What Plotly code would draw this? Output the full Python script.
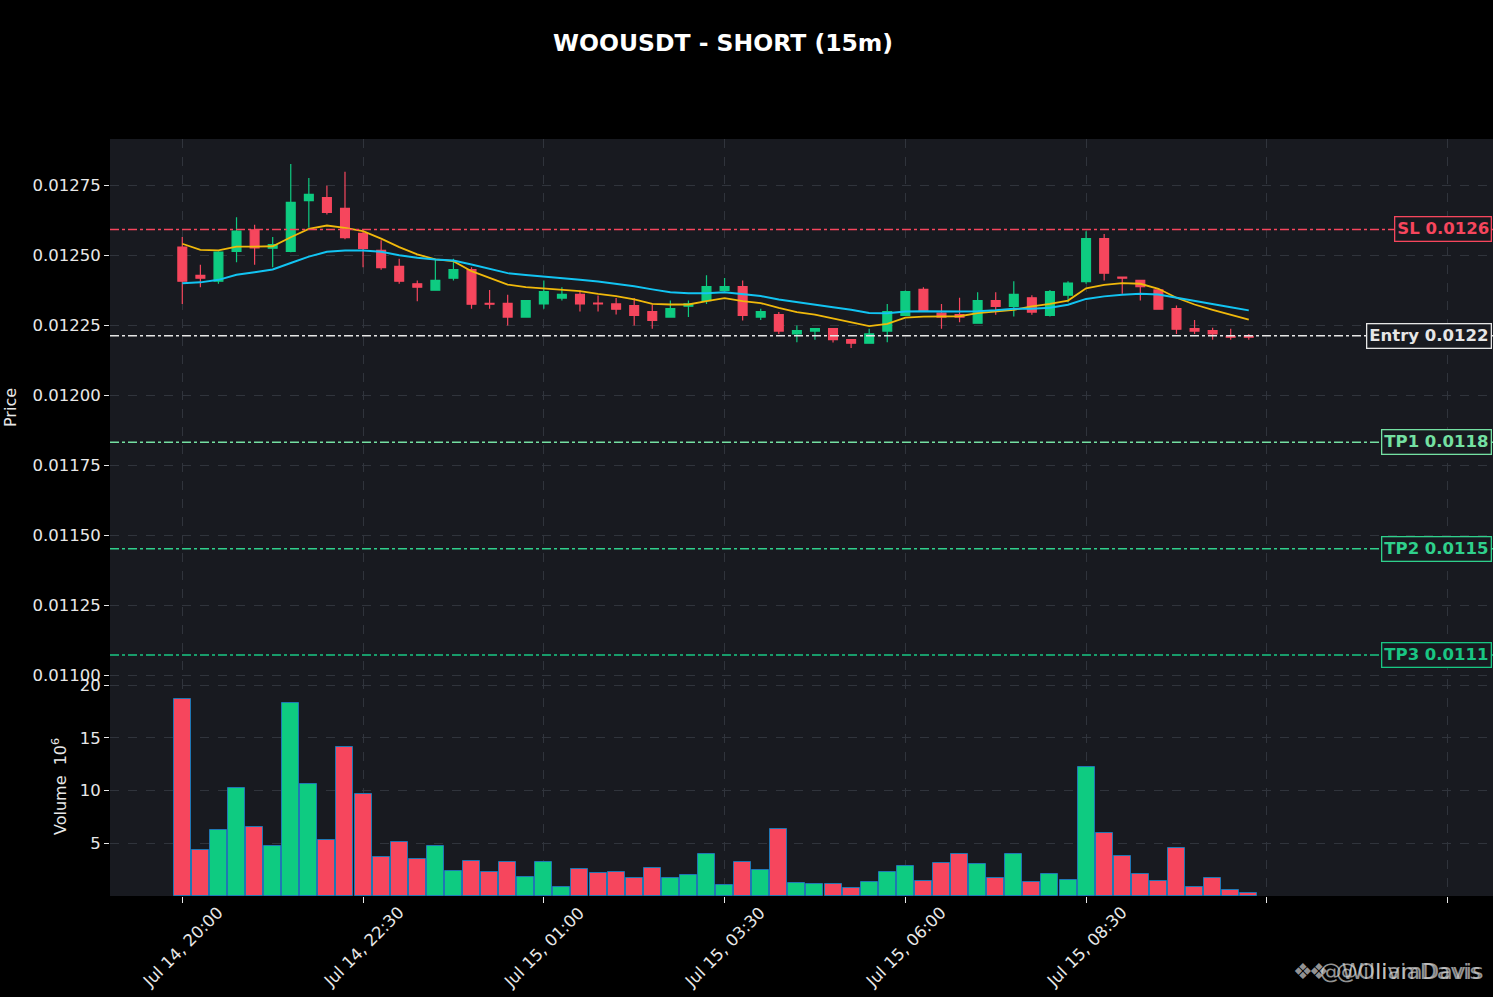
import pandas as pd
import plotly.graph_objects as go

# ---------------- data ----------------
times = pd.date_range("2025-07-14 20:00", periods=60, freq="15min")

opens = [0.012530, 0.012429, 0.012408, 0.012515, 0.012592, 0.012526, 0.012515, 0.012696, 0.012707, 0.012668,
         0.012579, 0.012518, 0.012461, 0.012399, 0.012376, 0.012419, 0.012450, 0.012329, 0.012329, 0.012280,
         0.012327, 0.012348, 0.012361, 0.012330, 0.012327, 0.012321, 0.012300, 0.012280, 0.012319, 0.012339,
         0.012375, 0.012389, 0.012280, 0.012289, 0.012220, 0.012230, 0.012239, 0.012200, 0.012187, 0.012230,
         0.012286, 0.012379, 0.012294, 0.012289, 0.012258, 0.012339, 0.012318, 0.012349, 0.012286, 0.012358,
         0.012407, 0.012560, 0.012423, 0.012411, 0.012377, 0.012310, 0.012239, 0.012232, 0.012211, 0.012211]
highs = [0.012566, 0.012467, 0.012515, 0.012637, 0.012610, 0.012566, 0.012827, 0.012777, 0.012749, 0.012799,
         0.012589, 0.012554, 0.012488, 0.012411, 0.012488, 0.012488, 0.012458, 0.012377, 0.012360, 0.012339,
         0.012411, 0.012387, 0.012375, 0.012357, 0.012348, 0.012348, 0.012325, 0.012339, 0.012339, 0.012429,
         0.012420, 0.012411, 0.012310, 0.012298, 0.012250, 0.012239, 0.012239, 0.012200, 0.012238, 0.012327,
         0.012375, 0.012387, 0.012327, 0.012349, 0.012369, 0.012369, 0.012408, 0.012358, 0.012377, 0.012408,
         0.012587, 0.012577, 0.012425, 0.012411, 0.012381, 0.012321, 0.012270, 0.012242, 0.012238, 0.012220]
lows = [0.012327, 0.012387, 0.012399, 0.012476, 0.012467, 0.012458, 0.012512, 0.012599, 0.012646, 0.012558,
        0.012458, 0.012449, 0.012399, 0.012337, 0.012376, 0.012411, 0.012310, 0.012310, 0.012250, 0.012280,
        0.012310, 0.012339, 0.012300, 0.012300, 0.012289, 0.012250, 0.012238, 0.012280, 0.012280, 0.012327,
        0.012372, 0.012268, 0.012270, 0.012220, 0.012190, 0.012199, 0.012189, 0.012170, 0.012187, 0.012190,
        0.012286, 0.012298, 0.012238, 0.012262, 0.012258, 0.012288, 0.012282, 0.012288, 0.012282, 0.012333,
        0.012399, 0.012411, 0.012363, 0.012339, 0.012308, 0.012220, 0.012220, 0.012199, 0.012199, 0.012199]
closes = [0.012408, 0.012419, 0.012512, 0.012587, 0.012527, 0.012539, 0.012690, 0.012718, 0.012654, 0.012564,
          0.012525, 0.012457, 0.012408, 0.012387, 0.012411, 0.012450, 0.012326, 0.012326, 0.012280, 0.012339,
          0.012371, 0.012361, 0.012327, 0.012327, 0.012308, 0.012286, 0.012268, 0.012310, 0.012327, 0.012389,
          0.012389, 0.012286, 0.012300, 0.012230, 0.012232, 0.012239, 0.012199, 0.012187, 0.012220, 0.012300,
          0.012371, 0.012302, 0.012280, 0.012280, 0.012339, 0.012318, 0.012361, 0.012298, 0.012371, 0.012401,
          0.012560, 0.012437, 0.012419, 0.012389, 0.012308, 0.012237, 0.012230, 0.012220, 0.012208, 0.012208]

volumes_m = [18.7, 4.4, 6.3, 10.2, 6.5, 4.7, 18.3, 10.6, 5.35, 14.1,
             9.7, 3.7, 5.1, 3.5, 4.7, 2.4, 3.35, 2.3, 3.2, 1.8,
             3.2, 0.9, 2.6, 2.2, 2.3, 1.75, 2.7, 1.75, 1.95, 4.0,
             1.0, 3.2, 2.5, 6.4, 1.2, 1.1, 1.1, 0.8, 1.3, 2.3,
             2.8, 1.45, 3.1, 4.0, 3.0, 1.75, 4.0, 1.35, 2.1, 1.55,
             12.2, 6.0, 3.8, 2.1, 1.45, 4.6, 0.9, 1.75, 0.6, 0.3]

ma_fast = [0.012542, 0.012520, 0.012518, 0.012532, 0.012532, 0.012533, 0.012565, 0.012595, 0.012607, 0.012599,
           0.012587, 0.012560, 0.012530, 0.012504, 0.012486, 0.012480, 0.012444, 0.012420, 0.012396, 0.012387,
           0.012382, 0.012379, 0.012373, 0.012363, 0.012355, 0.012343, 0.012327, 0.012325, 0.012325, 0.012337,
           0.012348, 0.012337, 0.012330, 0.012313, 0.012298, 0.012289, 0.012276, 0.012262, 0.012248, 0.012256,
           0.012278, 0.012282, 0.012283, 0.012283, 0.012294, 0.012301, 0.012306, 0.012318, 0.012327, 0.012339,
           0.012383, 0.012395, 0.012401, 0.012399, 0.012381, 0.012349, 0.012325, 0.012306, 0.012288, 0.012271]
ma_slow = [0.012401, 0.012404, 0.012413, 0.012431, 0.012440, 0.012450, 0.012473, 0.012496, 0.012513, 0.012518,
           0.012518, 0.012513, 0.012501, 0.012492, 0.012486, 0.012482, 0.012468, 0.012452, 0.012437, 0.012430,
           0.012425, 0.012419, 0.012413, 0.012407, 0.012399, 0.012390, 0.012379, 0.012369, 0.012365, 0.012365,
           0.012369, 0.012363, 0.012355, 0.012343, 0.012333, 0.012325, 0.012315, 0.012306, 0.012295, 0.012294,
           0.012300, 0.012301, 0.012300, 0.012300, 0.012301, 0.012304, 0.012310, 0.012310, 0.012313, 0.012324,
           0.012345, 0.012354, 0.012360, 0.012363, 0.012361, 0.012349, 0.012337, 0.012327, 0.012315, 0.012304]

level_names = ["SL", "Entry", "TP1", "TP2", "TP3"]
level_values = [0.012593, 0.012213, 0.011833, 0.011453, 0.011073]
level_colors = ["#f6465d", "#e6e6e6", "#74e0a2", "#2fd08c", "#19c683"]

price_ticks = [0.01100, 0.01125, 0.01150, 0.01175, 0.01200, 0.01225, 0.01250, 0.01275]
volume_ticks = [5, 10, 15, 20]
x_ticks = pd.date_range("2025-07-14 20:00", periods=8, freq="150min")
x_tick_text = ["Jul 14, 20:00", "Jul 14, 22:30", "Jul 15, 01:00", "Jul 15, 03:30",
               "Jul 15, 06:00", "Jul 15, 08:30"]

title_text = "WOOUSDT - SHORT (15m)"
watermarks = ["❖ @WilliamDavis", "❖ @OliviaDavis"]

# ---------------- style ----------------
UP = "#0ecb81"
DOWN = "#f6465d"
PANEL = "#181a20"
GRID = "#30343c"
TXT = "#e8e8e8"
FONT = "DejaVu Sans"

W, H = 1493, 997
L, R, T, B = 110, 0, 139, 101
split_px = 680
plot_h = H - T - B
split = (H - B - split_px) / plot_h


def px_x(px):
    return (px - L) / (W - L - R)


def px_y(py):
    return (H - B - py) / plot_h


vol_colors = [UP if c >= o else DOWN for o, c in zip(opens, closes)]

fig = go.Figure()

fig.add_trace(go.Candlestick(
    x=times, open=opens, high=highs, low=lows, close=closes,
    increasing=dict(line=dict(color=UP, width=1.2), fillcolor=UP),
    decreasing=dict(line=dict(color=DOWN, width=1.2), fillcolor=DOWN),
    whiskerwidth=0, showlegend=False, xaxis="x", yaxis="y",
))

fig.add_trace(go.Scatter(x=times, y=ma_fast, mode="lines",
                         line=dict(color="#f0b90b", width=1.8),
                         showlegend=False, xaxis="x", yaxis="y"))
fig.add_trace(go.Scatter(x=times, y=ma_slow, mode="lines",
                         line=dict(color="#12c4f2", width=2),
                         showlegend=False, xaxis="x", yaxis="y"))

fig.add_trace(go.Bar(x=times, y=volumes_m, marker=dict(color=vol_colors,
                     line=dict(color="#1f77b4", width=1)),
                     width=15 * 60 * 1000 * 0.94, showlegend=False,
                     xaxis="x2", yaxis="y2"))

for name, val, col in zip(level_names, level_values, level_colors):
    fig.add_shape(type="line", xref="paper", yref="y", x0=0, x1=1, y0=val, y1=val,
                  line=dict(color=col, width=1.5, dash="dashdot"), layer="above")
    fig.add_annotation(xref="paper", yref="y", x=0.9995, y=val, xanchor="right", yanchor="middle",
                       text=f"<b>{name} {val:.4f}</b>", showarrow=False,
                       font=dict(family=FONT, size=16.5, color=col),
                       bgcolor=PANEL, bordercolor=col, borderwidth=1.3, borderpad=2)

# rotated date labels, centred under their ticks
for t, txt in zip(x_ticks, x_tick_text):
    fig.add_annotation(xref="x2", yref="paper", x=t, y=px_y(947), text=txt,
                       textangle=-45, showarrow=False, xanchor="center", yanchor="middle",
                       font=dict(family=FONT, size=16.5, color=TXT))

x_range = ["2025-07-14 19:00:00", "2025-07-15 14:07:40"]
price_range = [0.010984, 0.012916]
vol_range = [0, 20.49]

axis_common = dict(showgrid=True, gridcolor=GRID, griddash="dash", gridwidth=1,
                   zeroline=False, showline=False,
                   tickfont=dict(family=FONT, size=16.5, color=TXT))

fig.update_layout(
    width=W, height=H,
    paper_bgcolor="#000000", plot_bgcolor=PANEL,
    margin=dict(l=L, r=R, t=T, b=B),
    title=dict(text=f"<b>{title_text}</b>", x=0.4843, xanchor="center",
               y=1 - 43 / H, yanchor="middle",
               font=dict(family=FONT, size=23.5, color="#ffffff")),
    xaxis=dict(axis_common, domain=[0, 1], range=x_range, type="date",
               tickvals=x_ticks, showticklabels=False,
               ticks="", rangeslider=dict(visible=False), anchor="y"),
    yaxis=dict(axis_common, domain=[split, 1], range=price_range,
               tickvals=price_ticks, ticktext=[f"{v:.5f}" for v in price_ticks],
               ticks="outside", ticklen=5, tickwidth=1.3, tickcolor=TXT, anchor="x"),
    xaxis2=dict(axis_common, domain=[0, 1], range=x_range, type="date",
                tickvals=x_ticks, showticklabels=False,
                ticks="outside", ticklen=6, tickwidth=1.3, tickcolor=TXT,
                anchor="y2", matches="x"),
    yaxis2=dict(axis_common, domain=[0, split], range=vol_range,
                tickvals=volume_ticks, ticktext=[str(v) for v in volume_ticks],
                ticks="outside", ticklen=5, tickwidth=1.3, tickcolor=TXT, anchor="x2"),
    bargap=0,
)

# axis titles
fig.add_annotation(xref="paper", yref="paper", x=px_x(10), y=px_y(408), text="Price",
                   textangle=-90, showarrow=False, xanchor="center", yanchor="middle",
                   font=dict(family=FONT, size=16, color=TXT))
fig.add_annotation(xref="paper", yref="paper", x=px_x(59), y=px_y(787),
                   text="Volume  10<sup>6</sup>",
                   textangle=-90, showarrow=False, xanchor="center", yanchor="middle",
                   font=dict(family=FONT, size=16, color=TXT))

# watermark (two overlapping texts)
fig.add_annotation(xref="paper", yref="paper", x=px_x(1485), y=px_y(971),
                   text=watermarks[0], showarrow=False, xanchor="right", yanchor="middle",
                   font=dict(family=FONT, size=22, color="rgba(215,215,215,0.7)"))
fig.add_annotation(xref="paper", yref="paper", x=px_x(1483), y=px_y(971),
                   text=watermarks[1], showarrow=False, xanchor="right", yanchor="middle",
                   font=dict(family=FONT, size=22, color="rgba(215,215,215,0.7)"))

fig.write_html("out.html", config={"displayModeBar": False},
               post_script="document.body.style.margin='0';document.body.style.overflow='hidden';")
